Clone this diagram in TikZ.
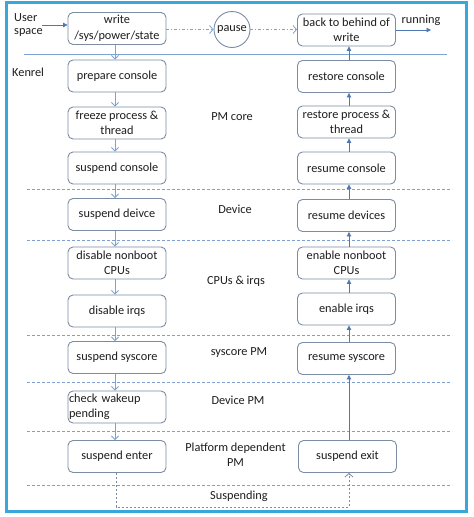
\documentclass[tikz,border=0pt]{standalone}
\usepackage{fontspec}
\setmainfont{Carlito}
\usetikzlibrary{arrows.meta,calc}
\definecolor{framec}{HTML}{3AA6DA}
\definecolor{boxc}{HTML}{7C8CA3}
\definecolor{larr}{HTML}{7BA3D3}
\definecolor{rarr}{HTML}{4F77B3}
\definecolor{dline}{HTML}{7E9FCF}
\definecolor{txt}{HTML}{1E1E1E}
\begin{document}
\begin{tikzpicture}[x=1pt,y=-1pt,
  font=\fontsize{12.3}{15.5}\selectfont, text=txt,
  stepbox/.style={draw=boxc, line width=0.9pt, rounded corners=5pt, minimum width=98pt, minimum height=32pt, align=center, inner sep=1pt},
  larrow/.style={draw=larr, line width=0.8pt, -{Straight Barb[length=3.5pt,width=7pt]}},
  rarrow/.style={draw=rarr, line width=0.8pt, -{Triangle[length=4.5pt,width=4.5pt]}},
  ddarrow/.style={draw=larr, line width=0.8pt, dash pattern=on 3pt off 2pt on 1pt off 2pt, -{Straight Barb[length=3.5pt,width=8pt]}},
  sep/.style={draw=dline, line width=0.8pt, dash pattern=on 3pt off 2pt},
  lab/.style={align=center, inner sep=0pt}]
\useasboundingbox (0,0) rectangle (474,517);
\fill[white] (0,0) rectangle (474,517);
\draw[framec, line width=3pt] (6,2.5) rectangle (466,511.5);

% separators
\draw[draw=larr, line width=0.9pt] (24,54) -- (447,54);
\foreach \yy in {189.5,240.5,335,382,431,485}
  \draw[sep] (27,\yy) -- (452,\yy);

% column x coordinates
\coordinate (xl) at (115,0);
\coordinate (xr) at (349,0);

% top row
\node[anchor=west, inner sep=0pt] (user) at (14,17.5) {User};
\node[anchor=west, inner sep=0pt] (space) at (14,33) {space};
\node[anchor=west, inner sep=0pt] (kenrel) at (12,72) {Kenrel};
\coordinate (ustart) at (42,25);
\node[stepbox] (write) at (117,28.5) {write\\/sys/power/state};
\node[circle, draw=boxc, line width=0.9pt, minimum size=36pt, inner sep=0pt] (pause) at (232,29.5) {pause};
\node[stepbox] (back) at (346.5,30) {back to behind of\\write};
\node[inner sep=0pt] (run) at (421,20) {running};
\coordinate (runend) at (431,30);

% left column
\node[stepbox] (prep) at (117,76) {prepare console};
\node[stepbox] (freeze) at (117,123) {freeze process \&\\thread};
\node[stepbox] (susc) at (117,168) {suspend console};
\node[stepbox] (susd) at (117,214.5) {suspend deivce};
\node[stepbox] (discpu) at (117,263) {disable nonboot\\CPUs};
\node[stepbox] (disirq) at (117,311) {disable irqs};
\node[stepbox] (sussys) at (117,357.5) {suspend syscore};
\node[stepbox, align=left, text width=96pt] (wake) at (117,407) {check wakeup\\pending};
\node[stepbox] (enter) at (117,456.5) {suspend enter};

% right column
\node[stepbox] (rcons) at (346.5,76.5) {restore console};
\node[stepbox] (rproc) at (346.5,122) {restore process \&\\thread};
\node[stepbox] (resc) at (346.5,168) {resume console};
\node[stepbox] (resd) at (346.5,215.5) {resume devices};
\node[stepbox] (encpu) at (346.5,263) {enable nonboot\\CPUs};
\node[stepbox] (enirq) at (346.5,309) {enable irqs};
\node[stepbox] (ressys) at (346.5,358.5) {resume syscore};
\node[stepbox] (exit) at (347.5,456.5) {suspend exit};

% middle labels
\node[lab] (l1) at (232,117) {PM core};
\node[lab] (l2) at (235,209) {Device};
\node[lab] (l3) at (236,281) {CPUs \& irqs};
\node[lab] (l4) at (239,353) {syscore PM};
\node[lab] (l5) at (238,400) {Device PM};
\node[lab] (l6) at (235.5,454.5) {Platform dependent\\PM};
\node[lab] (l7) at (239,496) {Suspending};

% top connectors
\draw[rarrow] (ustart) -- (write.west |- ustart);
\draw[ddarrow] (write.east |- pause.west) -- (pause.west);
\draw[ddarrow] (pause.east) -- (back.west |- pause.east);
\draw[rarrow] (back.east) -- (runend);

% left chain
\draw[larrow] (write.south -| xl) -- (prep.north -| xl);
\draw[larrow] (prep.south -| xl) -- (freeze.north -| xl);
\draw[larrow] (freeze.south -| xl) -- (susc.north -| xl);
\draw[larrow] (susc.south -| xl) -- (susd.north -| xl);
\draw[larrow] (susd.south -| xl) -- (discpu.north -| xl);
\draw[larrow] (discpu.south -| xl) -- (disirq.north -| xl);
\draw[larrow] (disirq.south -| xl) -- (sussys.north -| xl);
\draw[larrow] (sussys.south -| xl) -- (wake.north -| xl);
\draw[larrow] (wake.south -| xl) -- (enter.north -| xl);

% right chain
\draw[rarrow] (exit.north -| xr) -- (ressys.south -| xr);
\draw[rarrow] (ressys.north -| xr) -- (enirq.south -| xr);
\draw[rarrow] (enirq.north -| xr) -- (encpu.south -| xr);
\draw[rarrow] (encpu.north -| xr) -- (resd.south -| xr);
\draw[rarrow] (resd.north -| xr) -- (resc.south -| xr);
\draw[rarrow] (resc.north -| xr) -- (rproc.south -| xr);
\draw[rarrow] (rproc.north -| xr) -- (rcons.south -| xr);
\draw[rarrow] (rcons.north -| xr) -- (back.south -| xr);

% suspending loop
\coordinate (c1) at (116,507);
\coordinate (c2) at (349,507);
\draw[draw=boxc, line width=0.8pt, dash pattern=on 2.5pt off 1.5pt, -{Straight Barb[length=3.5pt,width=8pt]}]
  (enter.south -| c1) -- (c1) -- (c2) -- (exit.south -| c2);
\end{tikzpicture}
\end{document}
